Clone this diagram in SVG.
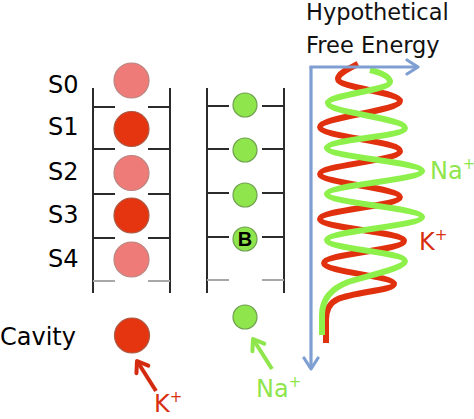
<svg xmlns="http://www.w3.org/2000/svg" width="474" height="419" viewBox="0 0 474 419">
<defs>
<style>
.lbl{font-family:"DejaVu Sans","Liberation Sans",sans-serif;font-size:24px;fill:#000}
.title{font-family:"DejaVu Sans","Liberation Sans",sans-serif;font-size:22.5px;fill:#111}
.wall{stroke:#2b2b2b;stroke-width:2;fill:none}
.tk{stroke:#2b2b2b;stroke-width:2}
.tk2{stroke:#a8a8a8;stroke-width:2}
.kl{fill:#ee7b78;stroke:#b98580;stroke-width:1.2}
.kd{fill:#e53510;stroke:#a95a45;stroke-width:1.2}
.na{fill:#8ee64c;stroke:#6f9f4f;stroke-width:1.2}
.tr{fill:#d8300f}
.tg{fill:#8ee64c}
.sup{font-size:15px}
.helix{fill:none;stroke-width:6;stroke-linecap:butt}
</style>
<marker id="mR" viewBox="-13 -10 16 20" markerWidth="16" markerHeight="20" refX="0" refY="0" orient="auto" markerUnits="userSpaceOnUse">
<path d="M-10,-7 L0,0 L-10,7" fill="none" stroke="#d42a10" stroke-width="4" stroke-linecap="round" stroke-linejoin="round"/>
</marker>
<marker id="mG" viewBox="-13 -10 16 20" markerWidth="16" markerHeight="20" refX="0" refY="0" orient="auto" markerUnits="userSpaceOnUse">
<path d="M-10,-7 L0,0 L-10,7" fill="none" stroke="#8ee64c" stroke-width="4" stroke-linecap="round" stroke-linejoin="round"/>
</marker>
<marker id="mB" viewBox="-13 -10 16 20" markerWidth="16" markerHeight="20" refX="0" refY="0" orient="auto" markerUnits="userSpaceOnUse">
<path d="M-11,-7 L0,0 L-11,7" fill="none" stroke="#7f9fd2" stroke-width="3.2" stroke-linecap="round" stroke-linejoin="round"/>
</marker>
</defs>
<rect width="474" height="419" fill="#fff"/>

<g id="title">
<text class="title" x="306" y="20">Hypothetical</text>
<text class="title" x="306" y="53">Free Energy</text>
</g>

<g id="site-labels">
<text class="lbl" x="48" y="93">S0</text>
<text class="lbl" x="48" y="135">S1</text>
<text class="lbl" x="48" y="180">S2</text>
<text class="lbl" x="48" y="223">S3</text>
<text class="lbl" x="48" y="267">S4</text>
<text class="lbl" x="0" y="345">Cavity</text>
</g>

<g id="k-channel">
<line class="wall" x1="93" y1="88" x2="93" y2="293"/>
<line class="wall" x1="170" y1="88" x2="170" y2="293"/>
<line class="tk" x1="93" y1="107" x2="115" y2="107"/><line class="tk" x1="148" y1="107" x2="170" y2="107"/>
<line class="tk" x1="93" y1="149" x2="115" y2="149"/><line class="tk" x1="148" y1="149" x2="170" y2="149"/>
<line class="tk" x1="93" y1="194" x2="115" y2="194"/><line class="tk" x1="148" y1="194" x2="170" y2="194"/>
<line class="tk" x1="93" y1="238" x2="115" y2="238"/><line class="tk" x1="148" y1="238" x2="170" y2="238"/>
<line class="tk2" x1="93" y1="281" x2="115" y2="281"/><line class="tk2" x1="148" y1="281" x2="170" y2="281"/>
</g>
<g id="k-ions">
<circle class="kl" cx="131.5" cy="80.5" r="17.5"/>
<circle class="kd" cx="131.5" cy="129" r="17.5"/>
<circle class="kl" cx="131.5" cy="173" r="17.5"/>
<circle class="kd" cx="131.5" cy="215.5" r="17.5"/>
<circle class="kl" cx="131.5" cy="259.5" r="17.5"/>
<circle class="kd" cx="132" cy="335.5" r="17.5"/>
</g>

<g id="na-channel">
<line class="wall" x1="207" y1="88" x2="207" y2="293"/>
<line class="wall" x1="284" y1="88" x2="284" y2="293"/>
<line class="tk" x1="207" y1="106" x2="229" y2="106"/><line class="tk" x1="262" y1="106" x2="284" y2="106"/>
<line class="tk" x1="207" y1="149" x2="229" y2="149"/><line class="tk" x1="262" y1="149" x2="284" y2="149"/>
<line class="tk" x1="207" y1="193" x2="229" y2="193"/><line class="tk" x1="262" y1="193" x2="284" y2="193"/>
<line class="tk" x1="207" y1="237" x2="229" y2="237"/><line class="tk" x1="262" y1="237" x2="284" y2="237"/>
<line class="tk2" x1="207" y1="280" x2="229" y2="280"/><line class="tk2" x1="262" y1="280" x2="284" y2="280"/>
</g>
<g id="na-ions">
<circle class="na" cx="245" cy="105" r="12"/>
<circle class="na" cx="245" cy="150" r="12"/>
<circle class="na" cx="245" cy="195" r="12"/>
<circle class="na" cx="245" cy="239" r="12"/>
<text x="245" y="246" text-anchor="middle" font-family="'Liberation Sans',Arial,sans-serif" font-weight="bold" font-size="20" fill="#000">B</text>
<circle class="na" cx="245" cy="317" r="12"/>
</g>

<g id="energy-curves">
<path class="helix" stroke="#e0300e" d="M358,64 C350,68 338,73 338,79 C338,88 400,92 400,101 C400,111 320,117 320,127 C320,137 400,141 400,151 C400,161 320,165 320,174 C320,183 400,188 400,197 C400,206 320,210 320,219 C320,228 404,232 404,241 C404,250 324,254 324,263 C324,272 394,276 394,284 C394,290 355,292 338,299 C329,303 326,310 326,320 L326,343"/>
<path class="helix" stroke="#8ef04a" d="M370,70 C378,72 390,76 390,82 C390,90 328,95 328,103 C328,113 405,118 405,128 C405,137 327,139 327,148 C327,157 422,162 422,171 C422,180 327,185 327,194 C327,203 422,208 422,217 C422,226 327,231 327,240 C327,249 405,252 405,261 C405,268 370,275 348,282 C330,289 322,300 322,315 L322,335"/>
</g>

<g id="ion-labels">
<text class="lbl tg" x="430" y="179">Na<tspan class="sup" dy="-10">+</tspan></text>
<text class="lbl tr" x="419" y="250">K<tspan class="sup" dy="-10">+</tspan></text>
<text class="lbl tr" x="154" y="412">K<tspan class="sup" dy="-10">+</tspan></text>
<text class="lbl tg" x="256" y="397">Na<tspan class="sup" dy="-10">+</tspan></text>
</g>

<g id="connectors">
<line x1="311" y1="67" x2="311" y2="369" stroke="#7f9fd2" stroke-width="3.2" marker-end="url(#mB)"/>
<line x1="309.4" y1="67" x2="418" y2="67" stroke="#7f9fd2" stroke-width="3.2" marker-end="url(#mB)"/>
<line x1="156" y1="391" x2="137" y2="361" stroke="#d42a10" stroke-width="4" marker-end="url(#mR)"/>
<line x1="272" y1="369" x2="253" y2="339" stroke="#8ee64c" stroke-width="4" marker-end="url(#mG)"/>
</g>
</svg>
